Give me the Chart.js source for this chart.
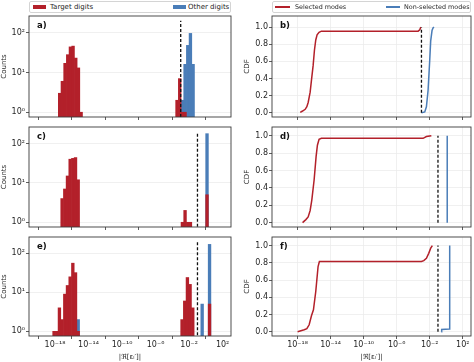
<!DOCTYPE html>
<html lang="en">
<head>
<meta charset="utf-8">
<title>Mode selection: histograms and CDFs</title>
<script src="https://cdn.jsdelivr.net/npm/chart.js@4.4.1/dist/chart.umd.min.js"></script>
<style>
  html, body { margin: 0; padding: 0; background: #fff; }
  #fig { position: relative; width: 474px; height: 362px; overflow: hidden; font-family: 'DejaVu Sans', sans-serif; }
  #fig canvas { position: absolute; }
  .legend { position: absolute; top: 1px; height: 12px; box-sizing: border-box; border: 1px solid #d4d4d4; border-radius: 2px; background: #fff; font-size: 7px; color: #262626; }
  #legRight { font-size: 6.4px; }
  .legend .txt { position: absolute; top: 1px; line-height: 9px; white-space: nowrap; }
  .legend .key { position: absolute; }
</style>
</head>
<body>
<div id="fig">
  <canvas id="pa" width="241" height="121" style="left:0;top:6px"></canvas>
  <canvas id="pc" width="241" height="120" style="left:0;top:117px"></canvas>
  <canvas id="pe" width="241" height="135" style="left:0;top:227px"></canvas>
  <canvas id="pb" width="232" height="121" style="left:242px;top:6px"></canvas>
  <canvas id="pd" width="232" height="120" style="left:242px;top:117px"></canvas>
  <canvas id="pf" width="232" height="135" style="left:242px;top:227px"></canvas>
  <div class="legend" id="legLeft" style="left:29px;width:202px"></div>
  <div class="legend" id="legRight" style="left:272px;width:199px"></div>
</div>
<script>
// x values are log10 |Re[eps]|
const xTicks = [-18, -14, -10, -6, -2, 2];
const countTicks = [1, 10, 100];
const cdfTicks = [0, 0.2, 0.4, 0.6, 0.8, 1.0];
const panelLabels = ['a)', 'b)', 'c)', 'd)', 'e)', 'f)'];
const histLegend = ['Target digits', 'Other digits'];
const cdfLegend = ['Selected modes', 'Non-selected modes'];
const thresholds = [-3.0, -1.0, -1.0];
const thresholdCount = 200;

// histograms (bin centre, count)
const aTargetBins = [-17.44, -17.12, -16.8, -16.48, -16.16, -15.84, -15.52, -15.2, -14.88, -3.44, -3.12, -2.8, -2.48];
const aTargetCounts = [3, 6, 17, 28, 44, 46, 23, 13, 1, 2, 7, 1, 1];
const aOtherBins = [-2.8, -2.48, -2.16, -1.84, -1.52];
const aOtherCounts = [2, 16, 48, 96, 16];

const cTargetBins = [-17.15, -16.83, -16.51, -16.19, -15.87, -15.55, -15.23, -2.8, -2.48, -2.16, -1.84, 0.14];
const cTargetCounts = [4, 7, 15, 40, 42, 44, 12, 1, 2, 1, 1, 5];
const cOtherBins = [0.14];
const cOtherCounts = [178];

const eTargetBins = [-18.11, -17.79, -17.47, -17.15, -16.83, -16.51, -16.19, -15.87, -15.55, -15.23, -2.84, -2.52, -2.2, -1.88, -1.56, 0.44];
const eTargetCounts = [1, 1, 4, 2, 9, 15, 25, 56, 32, 1, 2, 6, 24, 16, 4, 5];
const eOtherBins = [-15.23, -0.44, 0.44];
const eOtherCounts = [2, 5, 170];

// CDFs
const bSelectedX = [-17.68, -17.4, -17.08, -16.88, -16.72, -16.48, -16.32, -16.12, -15.96, -15.8, -15.64, -15.4, -15.12, -3.4, -3.2, -3.08];
const bSelectedY = [0.005, 0.02, 0.04, 0.07, 0.12, 0.24, 0.38, 0.55, 0.73, 0.85, 0.91, 0.94, 0.953, 0.953, 0.97, 1.0];
const bOtherX = [-3.0, -2.6, -2.4, -2.2, -2.0, -1.88, -1.72, -1.6, -1.48];
const bOtherY = [0.0, 0.01, 0.07, 0.26, 0.61, 0.84, 0.96, 0.99, 1.0];

const dSelectedX = [-17.4, -17.0, -16.72, -16.48, -16.28, -16.0, -15.76, -15.6, -15.4, -15.12, -2.8, -2.4, -1.8];
const dSelectedY = [0.0, 0.035, 0.065, 0.14, 0.26, 0.49, 0.76, 0.89, 0.958, 0.97, 0.97, 0.99, 1.0];
const dOtherX = [0.12, 0.12];
const dOtherY = [0.0, 1.0];

const fSelectedX = [-18.0, -17.6, -17.2, -16.88, -16.6, -16.32, -16.08, -15.8, -15.52, -15.36, -3.0, -2.72, -2.4, -2.12, -1.88, -1.68];
const fSelectedY = [0.0, 0.012, 0.023, 0.035, 0.08, 0.185, 0.255, 0.467, 0.757, 0.815, 0.815, 0.826, 0.853, 0.91, 0.97, 1.0];
const fOtherX = [-0.6, -0.55, 0.4, 0.42];
const fOtherY = [0.0, 0.025, 0.03, 1.0];

const RED = '#b3202a';
const BLUE = '#4a7db8';
const GRID = '#ececec';
const TICK = '#333';
const TXT = '#262626';
const X_MIN = -21.1, X_MAX = 3.0;

Chart.defaults.font.family = "'DejaVu Sans', sans-serif";
Chart.defaults.animation = false;

const SUP = { '-': '\u207B', '0': '\u2070', '1': '\u00B9', '2': '\u00B2', '3': '\u00B3', '4': '\u2074', '5': '\u2075', '6': '\u2076', '7': '\u2077', '8': '\u2078', '9': '\u2079' };
const pow10 = n => '10' + String(n).split('').map(c => SUP[c]).join('');
const pts = (xs, ys) => xs.map((x, i) => ({ x: x, y: ys[i] }));

const framePlugin = {
  id: 'frame',
  afterDraw(chart, args, opts) {
    const { ctx, chartArea: a } = chart;
    ctx.save();
    ctx.strokeStyle = '#3a3a3a';
    ctx.lineWidth = 0.9;
    ctx.strokeRect(a.left, a.top, a.right - a.left, a.bottom - a.top);
    ctx.fillStyle = '#111';
    ctx.font = "bold 8.5px 'DejaVu Sans', sans-serif";
    ctx.textBaseline = 'top';
    ctx.fillText(opts.label, a.left + 8, a.top + 6);
    ctx.restore();
  }
};

function xAxis(withLabels, vgrid) {
  return {
    type: 'linear', min: X_MIN, max: X_MAX, offset: false,
    afterBuildTicks: s => { s.ticks = xTicks.map(v => ({ value: v })); },
    afterFit: s => { s.height = withLabels ? 26 : 4; },
    border: { display: false },
    grid: { drawOnChartArea: vgrid, color: GRID, lineWidth: 0.8, tickColor: TICK, tickLength: 3, tickWidth: 0.8 },
    ticks: { display: withLabels, padding: 1, color: TXT, font: { size: 8 }, maxRotation: 0, autoSkip: false, callback: v => pow10(v) },
    title: { display: withLabels, text: '|\u211C[\u03B5\u2097\u2032]|', color: TXT, font: { size: 7 }, padding: { top: 0, bottom: 1 } }
  };
}

function countAxis() {
  return {
    type: 'logarithmic', min: Math.pow(10, -0.12), max: Math.pow(10, 2.42),
    afterBuildTicks: s => { s.ticks = countTicks.map(v => ({ value: v })); },
    afterFit: s => { s.width = 29; },
    border: { display: false },
    grid: { color: GRID, lineWidth: 0.8, tickColor: TICK, tickLength: 3, tickWidth: 0.8 },
    ticks: { padding: 1, color: TXT, font: { size: 8 }, callback: v => pow10(Math.round(Math.log10(v))) },
    title: { display: true, text: 'Counts', color: TXT, font: { size: 7 }, padding: 0 }
  };
}

function cdfAxis(max) {
  return {
    type: 'linear', min: -0.05, max: max,
    afterBuildTicks: s => { s.ticks = cdfTicks.map(v => ({ value: v })); },
    afterFit: s => { s.width = 30; },
    border: { display: false },
    grid: { color: GRID, lineWidth: 0.8, tickColor: TICK, tickLength: 3, tickWidth: 0.8 },
    ticks: { padding: 1, color: TXT, font: { size: 8 }, callback: v => v.toFixed(1) },
    title: { display: true, text: 'CDF', color: TXT, font: { size: 7 }, padding: { top: 1, bottom: 0 } }
  };
}

function thresholdLine(x, yLow, yHigh) {
  return {
    type: 'line', label: 'threshold', data: [{ x: x, y: yLow }, { x: x, y: yHigh }],
    borderColor: '#111', borderWidth: 1.3, borderDash: [3, 2], pointRadius: 0, order: 0
  };
}

function histChart(id, idx, tBins, tCounts, oBins, oCounts, last) {
  new Chart(document.getElementById(id), {
    type: 'bar',
    data: {
      datasets: [
        { label: histLegend[0], data: pts(tBins, tCounts), backgroundColor: RED, order: 1 },
        { label: histLegend[1], data: pts(oBins, oCounts), backgroundColor: BLUE, order: 2 },
        thresholdLine(thresholds[idx], 0.1, thresholdCount)
      ]
    },
    options: {
      responsive: false,
      layout: { padding: { top: 10, right: 10, bottom: last ? 0 : 6, left: 0 } },
      datasets: { bar: { grouped: false, barPercentage: 1, categoryPercentage: 1, borderWidth: 0 } },
      scales: { x: xAxis(last, false), y: countAxis() },
      plugins: { legend: { display: false }, tooltip: { enabled: false }, frame: { label: panelLabels[idx * 2] } }
    },
    plugins: [framePlugin]
  });
}

function cdfChart(id, idx, sx, sy, ox, oy, yMax, last) {
  new Chart(document.getElementById(id), {
    type: 'scatter',
    data: {
      datasets: [
        { label: cdfLegend[0], data: pts(sx, sy), borderColor: RED, showLine: true, borderWidth: 1.5, pointRadius: 0, order: 1 },
        { label: cdfLegend[1], data: pts(ox, oy), borderColor: BLUE, showLine: true, borderWidth: 1.5, pointRadius: 0, order: 2 },
        thresholdLine(thresholds[idx], 0, 1)
      ]
    },
    options: {
      responsive: false,
      layout: { padding: { top: 10, right: 3, bottom: last ? 0 : 6, left: 0 } },
      scales: { x: xAxis(last, true), y: cdfAxis(yMax) },
      plugins: { legend: { display: false }, tooltip: { enabled: false }, frame: { label: panelLabels[idx * 2 + 1] } }
    },
    plugins: [framePlugin]
  });
}

histChart('pa', 0, aTargetBins, aTargetCounts, aOtherBins, aOtherCounts, false);
histChart('pc', 1, cTargetBins, cTargetCounts, cOtherBins, cOtherCounts, false);
histChart('pe', 2, eTargetBins, eTargetCounts, eOtherBins, eOtherCounts, true);
cdfChart('pb', 0, bSelectedX, bSelectedY, bOtherX, bOtherY, 1.13, false);
cdfChart('pd', 1, dSelectedX, dSelectedY, dOtherX, dOtherY, 1.1, false);
cdfChart('pf', 2, fSelectedX, fSelectedY, fOtherX, fOtherY, 1.1, true);

// matplotlib-style expanded legends above each column
function buildLegend(el, labels, keyStyle, spots) {
  labels.forEach((text, i) => {
    const key = document.createElement('span');
    key.className = 'key';
    key.style.cssText = keyStyle[i];
    el.appendChild(key);
    const t = document.createElement('span');
    t.className = 'txt';
    t.style.left = spots[i] + 'px';
    t.textContent = text;
    el.appendChild(t);
  });
}
buildLegend(document.getElementById('legLeft'), histLegend,
  ['left:3px;top:3px;width:13px;height:4px;background:' + RED,
   'left:143px;top:3px;width:13px;height:4px;background:' + BLUE],
  [20, 158]);
buildLegend(document.getElementById('legRight'), cdfLegend,
  ['left:2px;top:4px;width:15px;height:1.5px;background:' + RED,
   'left:113px;top:4px;width:14px;height:1.5px;background:' + BLUE],
  [22, 131]);
</script>
</body>
</html>
